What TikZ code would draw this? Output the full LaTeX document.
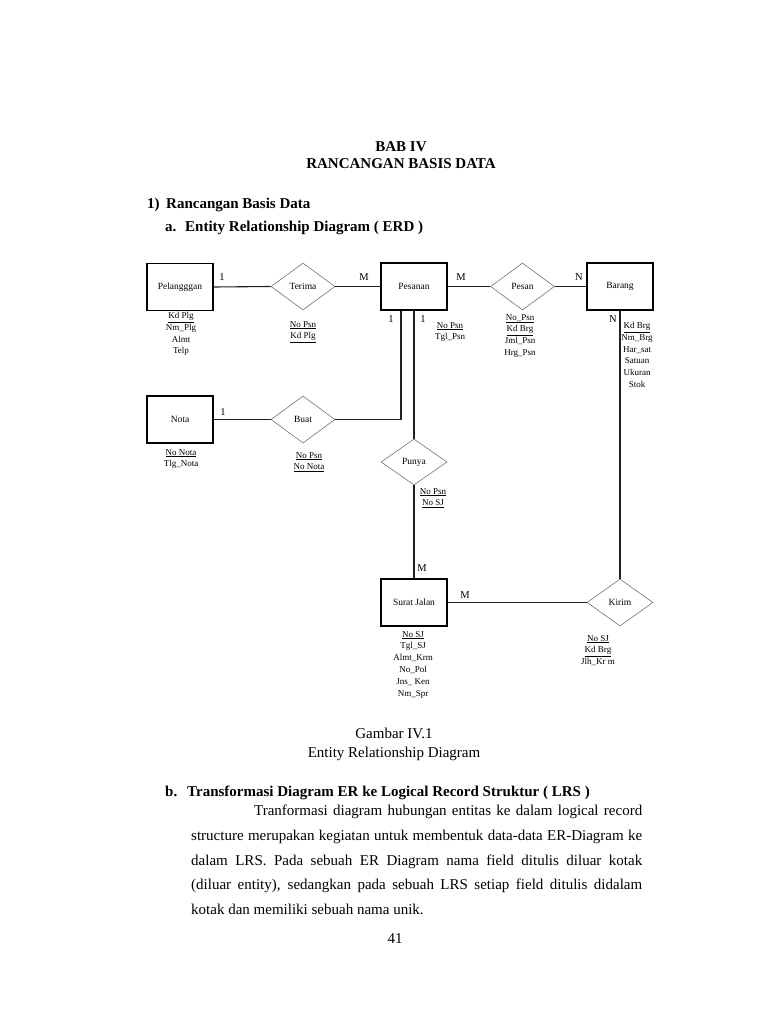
\documentclass[tikz,border=0pt]{standalone}
\usepackage{fontspec}
\setmainfont{Liberation Serif}
\usetikzlibrary{shapes.geometric}
\definecolor{dia}{gray}{0.45}
\definecolor{ink}{gray}{0.12}
\begin{document}
\begin{tikzpicture}[x=1pt,y=-1pt,
 ent/.style={draw=black,line width=1.1pt,minimum width=66pt,minimum height=47pt,inner sep=0pt,font=\fontsize{9.5}{11}\selectfont},
 rel/.style={diamond,aspect=1.36,draw=dia,line width=0.6pt,minimum width=64pt,minimum height=47pt,inner sep=0pt,font=\fontsize{9.5}{11}\selectfont},
 con/.style={line width=1.1pt,draw=ink},
 attr/.style={align=center,anchor=north,inner sep=0pt,font=\fontsize{9}{11.8}\selectfont},
 card/.style={inner sep=0pt,font=\fontsize{10.5}{12}\selectfont},
 body/.style={anchor=base west,inner sep=0pt,font=\fontsize{15}{18}\selectfont},
 bodyc/.style={anchor=base,inner sep=0pt,font=\fontsize{15}{18}\selectfont},
 head/.style={anchor=base west,inner sep=0pt,font=\fontsize{15}{18}\selectfont\bfseries},
 headc/.style={anchor=base,inner sep=0pt,font=\fontsize{15}{18}\selectfont\bfseries}]
\fill[white] (0,0) rectangle (768,1024);
\useasboundingbox (0,0) rectangle (768,1024);

% headings
\node[headc] (t1) at (401,152) {BAB IV};
\node[headc] (t2) at (401,169) {RANCANGAN BASIS DATA};
\node[head] (h1) at (147,209) {\makebox[19pt][l]{1)}Rancangan Basis Data};
\node[head] (h2) at (165,232) {\makebox[20pt][l]{a.}Entity Relationship Diagram ( ERD )};

% entities
\node[ent] (plg) at (180,287) {Pelangggan};
\node[rel] (ter) at (303,286.5) {Terima};
\node[ent] (psn) at (414,286.5) {Pesanan};
\node[rel] (pes) at (522.5,286.5) {Pesan};
\node[ent] (brg) at (620,286.5) {Barang};
\node[ent] (not) at (180,419.5) {Nota};
\node[rel] (bua) at (303,419.5) {Buat};
\node[rel,minimum width=66pt,minimum height=46pt] (pun) at (414,462) {Punya};
\node[ent] (sj) at (414,602.5) {Surat Jalan};
\node[rel,minimum width=66pt] (kir) at (620,602.5) {Kirim};

% connectors
\draw[con] (plg.east) -- (ter.west);
\draw[con] (ter.east) -- (psn.west);
\draw[con] (psn.east) -- (pes.west);
\draw[con] (pes.east) -- (brg.west);
\draw[con] (not.east) -- (bua.west);
\draw[con] ([xshift=-13pt]psn.south) |- (bua.east);
\draw[con] (psn.south) -- (pun.north);
\draw[con] (pun.south) -- (sj.north);
\draw[con] (brg.south) -- (kir.north);
\draw[con] (sj.east) -- (kir.west);

% cardinalities
\node[card] (c1) at (222,277) {1};
\node[card] (c2) at (364,277) {M};
\node[card] (c3) at (461,277) {M};
\node[card] (c4) at (579,277) {N};
\node[card] (c5) at (391,319) {1};
\node[card] (c6) at (423,319) {1};
\node[card] (c7) at (613,319) {N};
\node[card] (c8) at (223,412) {1};
\node[card] (c9) at (422,568) {M};
\node[card] (c10) at (465,595) {M};

% attributes
\node[attr] (a1) at (181,312) {\underline{Kd Plg}\\Nm\_Plg\\Almt\\Telp};
\node[attr] (a2) at (303,321) {\underline{No Psn}\\\underline{Kd Plg}};
\node[attr] (a3) at (450,322) {\underline{No Psn}\\Tgl\_Psn};
\node[attr] (a4) at (520,314) {\underline{No\_Psn}\\\underline{Kd Brg}\\Jml\_Psn\\Hrg\_Psn};
\node[attr] (a5) at (637,322) {\underline{Kd Brg}\\Nm\_Brg\\Har\_sat\\Satuan\\Ukuran\\Stok};
\node[attr] (a6) at (181,449) {\underline{No Nota}\\Tlg\_Nota};
\node[attr] (a7) at (309,452) {\underline{No Psn}\\\underline{No Nota}};
\node[attr] (a8) at (433,488) {\underline{No Psn}\\\underline{No SJ}};
\node[attr] (a9) at (413,631) {\underline{No SJ}\\Tgl\_SJ\\Almt\_Krm\\No\_Pol\\Jns\_ Ken\\Nm\_Spr};
\node[attr] (a10) at (598,635) {\underline{No SJ}\\\underline{Kd Brg}\\Jlh\_Kr m};

% caption
\node[bodyc] (g1) at (394,738) {Gambar IV.1};
\node[bodyc] (g2) at (394,757) {Entity Relationship Diagram};

\node[head] (h3) at (165,796) {\makebox[22pt][l]{b.}Transformasi Diagram ER ke Logical Record Struktur ( LRS )};
\node[body] (p1) at (254,815) {\makebox[388pt][s]{Tranformasi diagram hubungan entitas ke dalam logical record}};
\node[body] (p2) at (191,840) {\makebox[451pt][s]{structure merupakan kegiatan untuk membentuk data-data ER-Diagram ke}};
\node[body] (p3) at (191,865) {\makebox[451pt][s]{dalam LRS. Pada sebuah ER Diagram nama field ditulis diluar kotak}};
\node[body] (p4) at (191,889) {\makebox[451pt][s]{(diluar entity), sedangkan pada sebuah LRS setiap field ditulis didalam}};
\node[body] (p5) at (191,914) {kotak dan memiliki sebuah nama unik.};
\node[bodyc] (pg) at (395,943) {41};
\end{tikzpicture}
\end{document}
